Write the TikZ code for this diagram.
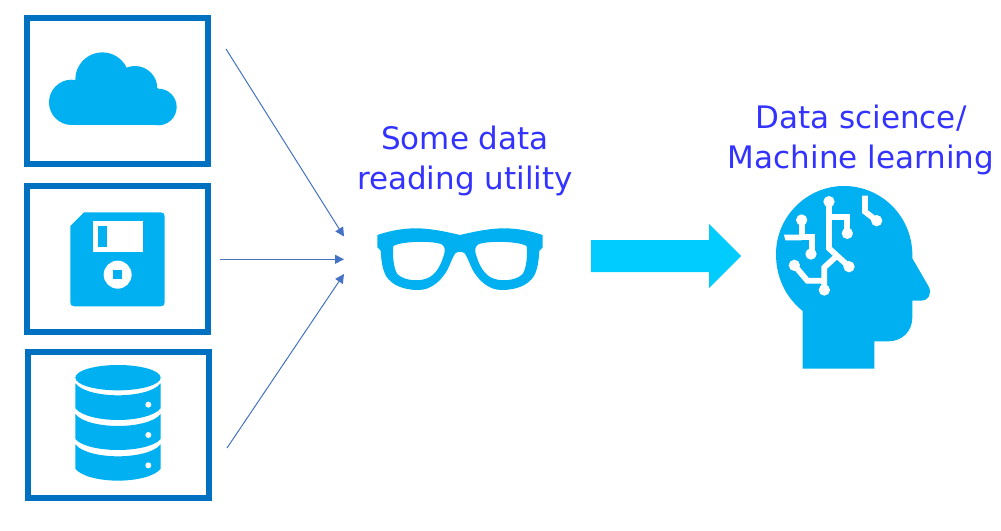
\documentclass[tikz,border=0pt]{standalone}
\usepackage{fontspec}
\setmainfont{DejaVu Sans}
\usetikzlibrary{arrows.meta}
\definecolor{iconblue}{HTML}{00B0F0}
\definecolor{boxblue}{HTML}{0070C0}
\definecolor{linkblue}{HTML}{4472C4}
\definecolor{bigarrow}{HTML}{00CCFF}
\definecolor{labelblue}{HTML}{3333FF}
\tikzset{
  srcbox/.style={draw=boxblue,line width=6pt,minimum width=181pt,minimum height=146pt,inner sep=0pt,outer sep=0pt},
  link/.style={draw=linkblue,line width=1pt,-{Triangle[length=9pt,width=9pt]}},
  label/.style={text=labelblue,font=\fontsize{31}{40}\selectfont,align=center,anchor=base,inner sep=0pt},
  icon/.style={fill=iconblue,draw=none},
  hole/.style={fill=white,draw=none},
  trace/.style={draw=white,line width=5.8pt,line join=miter},
}
\begin{document}
\begin{tikzpicture}[x=1pt,y=-1pt]
\useasboundingbox (0,0) rectangle (1001,530);
% source boxes
\node[srcbox] (cloudbox) at (117.5,91) {};
\node[srcbox] (floppybox) at (117.5,259) {};
\node[srcbox] (dbbox) at (118.5,425) {};
% connectors
\coordinate (s1) at (226,49);
\coordinate (s2) at (220,259.3);
\coordinate (s3) at (227,448);
\coordinate (t1) at (344,236.5);
\coordinate (t2) at (344,259.3);
\coordinate (t3) at (344,274);
\draw[link] (s1) -- (t1);
\draw[link] (s2) -- (t2);
\draw[link] (s3) -- (t3);
% cloud
\begin{scope}[shift={(10,5)},scale=1/3]
  \fill[icon] (185,292) circle[radius=68];
  \fill[icon] (277,223) circle[radius=81];
  \fill[icon] (375,250) circle[radius=67];
  \fill[icon] (445,306) circle[radius=55];
  \fill[icon] (185,250) rectangle (445,361);
\end{scope}
% floppy
\begin{scope}[shift={(10,175)},scale=1/3]
  \fill[icon] (181,153) -- (222,112) -- (452,112) .. controls (460,112) and (464,116) .. (464,124)
    -- (464,382) .. controls (464,390) and (460,394) .. (452,394)
    -- (193,394) .. controls (185,394) and (181,390) .. (181,382) -- cycle;
  \fill[hole] (248,137) rectangle (398,232);
  \fill[icon] (264,153) rectangle (290,215);
  \fill[hole] (323,299) circle[radius=42];
  \fill[icon] (310,286) rectangle (336,312);
\end{scope}
% database
\begin{scope}[shift={(10,340)},scale=1/3]
  \fill[icon] (324,113) ellipse[x radius=128,y radius=38];
  \fill[icon] (196,130) .. controls (215,155) and (275,166) .. (324,166)
    .. controls (373,166) and (433,155) .. (452,130) -- (452,205)
    .. controls (433,229) and (373,240) .. (324,240)
    .. controls (275,240) and (215,229) .. (196,205) -- cycle;
  \fill[icon] (196,222) .. controls (215,247) and (275,258) .. (324,258)
    .. controls (373,258) and (433,247) .. (452,222) -- (452,297)
    .. controls (433,320) and (373,330) .. (324,330)
    .. controls (275,330) and (215,320) .. (196,297) -- cycle;
  \fill[icon] (196,313) .. controls (215,338) and (275,349) .. (324,349)
    .. controls (373,349) and (433,338) .. (452,313) -- (452,386)
    .. controls (433,411) and (373,422) .. (324,422)
    .. controls (275,422) and (215,411) .. (196,386) -- cycle;
  \fill[hole] (415,194) circle[radius=9];
  \fill[hole] (415,285) circle[radius=9];
  \fill[hole] (415,376) circle[radius=9];
\end{scope}
% glasses
\begin{scope}[shift={(360,210)},scale=1/3]
  \fill[icon,even odd rule]
    (52,75) .. controls (95,60) and (140,54) .. (175,55)
    .. controls (225,57) and (265,67) .. (300,75)
    .. controls (335,67) and (375,57) .. (425,55)
    .. controls (460,54) and (505,60) .. (548,75)
    -- (548,112) -- (538,122)
    .. controls (536,150) and (534,175) .. (522,198)
    .. controls (505,225) and (470,240) .. (425,240)
    .. controls (385,240) and (355,210) .. (338,180)
    .. controls (328,160) and (322,140) .. (314,130)
    .. controls (308,124) and (292,124) .. (286,130)
    .. controls (278,140) and (272,160) .. (262,180)
    .. controls (245,210) and (215,240) .. (175,240)
    .. controls (130,240) and (95,225) .. (78,198)
    .. controls (66,175) and (64,150) .. (62,122)
    -- (52,112) -- cycle
    (100,108) .. controls (120,95) and (210,90) .. (245,103)
    .. controls (254,108) and (256,120) .. (253,130)
    .. controls (245,160) and (232,188) .. (208,202)
    .. controls (185,215) and (135,215) .. (112,192)
    .. controls (100,175) and (97,130) .. (100,108) -- cycle
    (500,108) .. controls (480,95) and (390,90) .. (355,103)
    .. controls (346,108) and (344,120) .. (347,130)
    .. controls (355,160) and (368,188) .. (392,202)
    .. controls (415,215) and (465,215) .. (488,192)
    .. controls (500,175) and (503,130) .. (500,108) -- cycle;
\end{scope}
% block arrow
\fill[bigarrow] (591,240) -- (709,240) -- (709,224) -- (741,256) -- (709,288) -- (709,272) -- (591,272) -- cycle;
% head
\begin{scope}[shift={(760,180)},scale=1/3]
  \fill[icon] (128,566) -- (128,393)
    .. controls (75,350) and (48,290) .. (48,222)
    .. controls (48,110) and (140,18) .. (252,18)
    .. controls (365,18) and (457,110) .. (457,225)
    -- (457,235) -- (505,318)
    .. controls (518,340) and (505,362) .. (485,362)
    -- (457,362) -- (457,412)
    .. controls (457,455) and (425,484) .. (385,484)
    -- (343,484) -- (343,566) -- cycle;
  \draw[trace] (207,65) -- (207,205) -- (267,260);
  \draw[trace] (207,110) -- (262,110) -- (262,160);
  \draw[trace] (125,120) -- (125,172) -- (155,172) -- (155,222);
  \fill[hole] (72,164) -- (125,164) -- (125,181) -- (76,181) -- cycle;
  \draw[trace] (103,256) -- (142,302) -- (193,302);
  \draw[trace] (193,330) -- (193,262) -- (230,228);
  \draw[trace] (315,47) -- (315,95) -- (350,122);
  \foreach \p in {(207,65),(267,260),(262,160),(125,120),(153,222),(103,256),(193,330),(350,122)}
    \fill[hole] \p circle[radius=17];
\end{scope}
% labels
\node[label] (readlabel) at (465,189) {Some data\\reading utility};
\node[label] (mllabel) at (861,168) {Data science/\\Machine learning};
\end{tikzpicture}
\end{document}
